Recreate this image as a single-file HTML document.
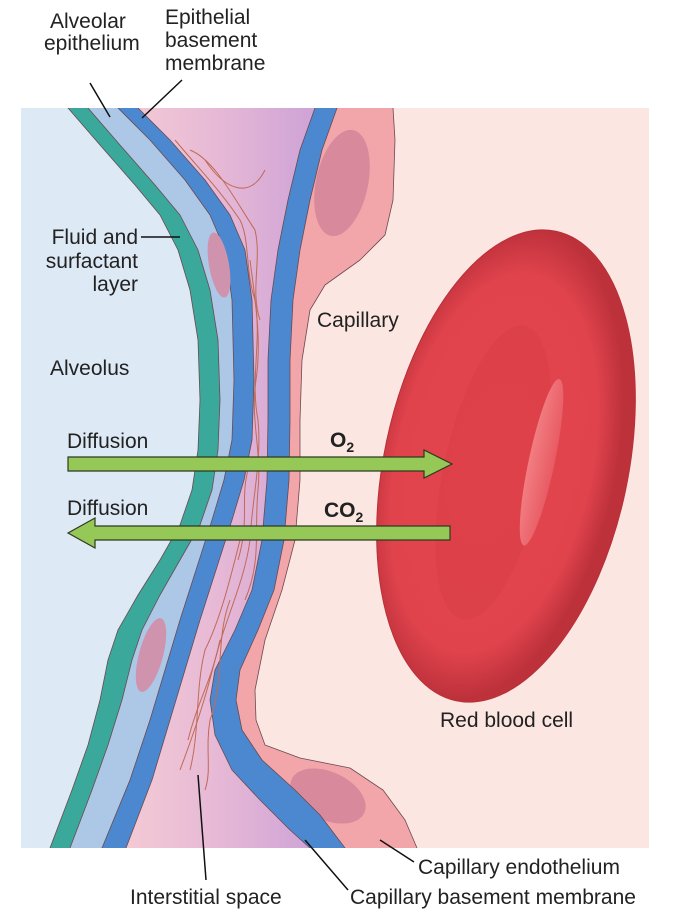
<!DOCTYPE html>
<html><head><meta charset="utf-8"><style>
html,body{margin:0;padding:0;background:#fff;}
svg{display:block;}
text{font-family:"Liberation Sans",sans-serif;font-size:21px;fill:#222;}
</style></head><body>
<svg width="680" height="919" viewBox="0 0 680 919" xmlns="http://www.w3.org/2000/svg">
<defs>
<linearGradient id="inter" gradientUnits="userSpaceOnUse" x1="130" x2="310" y1="0" y2="0">
<stop offset="0" stop-color="#f3c9d4"/><stop offset="0.5" stop-color="#e6b8d6"/><stop offset="1" stop-color="#cfa4d6"/>
</linearGradient>
<radialGradient id="rbc" cx="0.45" cy="0.5" r="0.5">
<stop offset="0" stop-color="#e5464f"/><stop offset="0.8" stop-color="#e0434c"/><stop offset="1" stop-color="#bd313b"/>
</radialGradient>
<linearGradient id="hl" x1="0" x2="1"><stop offset="0" stop-color="#f27e82"/><stop offset="1" stop-color="#e85a63"/></linearGradient>
<clipPath id="panel"><rect x="21" y="108" width="628" height="740"/></clipPath>
</defs>
<rect x="21" y="108" width="628" height="740" fill="#fce6e1"/>
<g clip-path="url(#panel)" stroke="#6a4a50" stroke-width="0.8" stroke-linejoin="round">
<path fill="#f2a6aa" d="M0,100 L393,100 L393,108 L395,140 L393,200 L385,235 L360,260 L325,285 L310,310 L302,360 L300,420 L300,480 L295,540 L282,590 L265,640 L255,690 L256,720 L265,745 L300,758 L350,768 L383,790 L405,820 L417,848 L420,860 L0,860 Z"/>
<ellipse cx="342" cy="183" rx="26" ry="54" transform="rotate(12 342 183)" fill="#d9899c" stroke="none"/>
<ellipse cx="328" cy="796" rx="40" ry="24" transform="rotate(25 328 796)" fill="#d9899c" stroke="none"/>
<path fill="#4c88cf" d="M0,100 L340,100 L337,108 L322,150 L310,200 L300,250 L293,300 L290,360 L290,420 L289,480 L284,540 L274,590 L258,630 L240,670 L236,700 L242,730 L262,760 L295,790 L320,815 L345,848 L350,860 L0,860 Z"/>
<path fill="url(#inter)" d="M0,100 L318,100 L315,108 L300,150 L288,200 L278,250 L271,300 L268,360 L268,420 L267,480 L262,540 L252,590 L235,630 L215,670 L210,700 L215,735 L232,770 L260,800 L290,830 L310,848 L315,860 L0,860 Z"/>
<g fill="none" stroke="#c06a55" stroke-width="1">
<path d="M175,140 C200,170 220,190 240,220 C250,240 245,270 255,300 C262,340 250,380 258,420 C262,460 252,500 250,540 C245,580 225,620 215,660 C205,700 195,730 180,770"/>
<path d="M190,150 C215,160 235,200 255,230 C262,260 250,290 260,320"/>
<path d="M205,160 C225,190 250,200 265,170"/>
<path d="M250,260 C255,300 262,340 256,380 C250,420 262,450 258,490 C254,530 262,560 245,600"/>
<path d="M240,540 C230,580 220,620 205,650 C195,690 200,730 190,770"/>
<path d="M230,600 C215,640 225,680 210,720 C205,750 212,770 205,790"/>
<path d="M220,640 C212,680 198,700 188,740"/>
<path d="M248,470 C240,500 250,520 238,560"/>
</g>
<path fill="#4c88cf" d="M0,100 L132,100 L138,108 L170,140 L205,180 L230,215 L245,250 L252,300 L254,380 L252,440 L244,480 L232,520 L216,570 L200,620 L185,670 L170,720 L152,780 L126,848 L122,860 L0,860 Z"/>
<path fill="#adc7e7" d="M0,100 L112,100 L118,108 L150,140 L185,180 L210,215 L225,250 L232,300 L234,380 L232,440 L224,480 L212,520 L196,570 L180,620 L165,670 L150,720 L130,780 L102,848 L98,860 L0,860 Z"/>
<ellipse cx="219" cy="265" rx="10" ry="33" transform="rotate(-10 219 265)" fill="#cf93ae" stroke="none"/>
<ellipse cx="151" cy="655" rx="12" ry="38" transform="rotate(15 151 655)" fill="#cf93ae" stroke="none"/>
<path fill="#3aa89a" d="M0,100 L82,100 L88,108 L120,145 L155,185 L180,215 L198,250 L210,290 L218,340 L220,400 L218,450 L212,490 L200,525 L180,560 L160,595 L142,630 L132,660 L122,700 L108,745 L92,790 L70,848 L65,860 L0,860 Z"/>
<path fill="#dde9f5" d="M0,100 L62,100 L68,108 L100,145 L135,185 L160,215 L178,250 L190,290 L198,340 L200,400 L198,450 L192,490 L180,525 L160,560 L138,595 L118,630 L108,660 L100,700 L88,745 L72,790 L50,848 L45,860 L0,860 Z"/>
</g>
<g transform="rotate(12 506 466)">
<ellipse cx="506" cy="466" rx="122" ry="240" fill="url(#rbc)" stroke="#b83038" stroke-width="1"/>
<ellipse cx="495" cy="475" rx="50" ry="150" fill="#d63b45" opacity="0.45"/>
<ellipse cx="540" cy="455" rx="13" ry="85" fill="url(#hl)"/>
</g>
<path d="M68,457 L424,457 L424,450 L452,464 L424,478 L424,471 L68,471 Z" fill="#95c857" stroke="#2e3a1e" stroke-width="1.2"/>
<path d="M450,526 L95,526 L95,518 L68,533 L95,548 L95,540 L450,540 Z" fill="#95c857" stroke="#2e3a1e" stroke-width="1.2"/>
<g stroke="#111" stroke-width="1.5" fill="none">
<line x1="90" y1="83" x2="110" y2="117"/>
<line x1="182" y1="80" x2="142" y2="118"/>
<line x1="141" y1="237" x2="180" y2="237"/>
<line x1="198" y1="775" x2="206" y2="880"/>
<line x1="305" y1="840" x2="348" y2="890"/>
<line x1="380" y1="840" x2="414" y2="862"/>
</g>
<text x="50" y="28">Alveolar</text>
<text x="44" y="50">epithelium</text>
<text x="165" y="24">Epithelial</text>
<text x="165" y="47">basement</text>
<text x="165" y="70">membrane</text>
<text x="138" y="244" text-anchor="end">Fluid and</text>
<text x="138" y="268" text-anchor="end">surfactant</text>
<text x="138" y="291" text-anchor="end">layer</text>
<text x="50" y="375">Alveolus</text>
<text x="317" y="327">Capillary</text>
<text x="67" y="448">Diffusion</text>
<text x="330" y="447" font-weight="bold">O<tspan font-size="14" dy="5">2</tspan></text>
<text x="67" y="515">Diffusion</text>
<text x="324" y="517" font-weight="bold">CO<tspan font-size="14" dy="5">2</tspan></text>
<text x="440" y="727">Red blood cell</text>
<text x="418" y="874">Capillary endothelium</text>
<text x="350" y="904">Capillary basement membrane</text>
<text x="130" y="904">Interstitial space</text>
</svg>
</body></html>
